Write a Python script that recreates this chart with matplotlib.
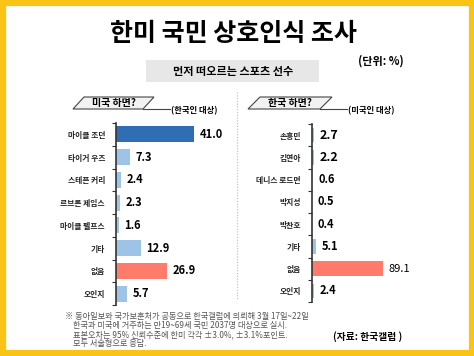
import matplotlib
matplotlib.use("Agg")
import matplotlib.pyplot as plt
from matplotlib.patches import Polygon, Rectangle
from matplotlib.lines import Line2D

plt.rcParams["font.family"] = ["Noto Sans CJK KR", "DejaVu Sans"]

# data
us_names = ["마이클 조던", "타이거 우즈", "스테픈 커리", "르브론 제임스",
            "마이클 펠프스", "기타", "없음", "오인지"]
us_values = [41.0, 7.3, 2.4, 2.3, 1.6, 12.9, 26.9, 5.7]
kr_names = ["손흥민", "김연아", "데니스 로드먼", "박지성", "박찬호",
            "기타", "없음", "오인지"]
kr_values = [2.7, 2.2, 0.6, 0.5, 0.4, 5.1, 89.1, 2.4]

DARK_BLUE = "#2F6EB5"
LIGHT_BLUE = "#9DC3E6"
SALMON = "#FF7B6B"
YELLOW = "#F9C416"

W, H = 474, 356
fig = plt.figure(figsize=(W / 100, H / 100), dpi=100)
fig.patch.set_facecolor("white")


def fx(x):
    return x / W


def fy(y):
    return 1 - y / H


def bar_colors(names, first_dark):
    cols = []
    for i, n in enumerate(names):
        if n == "없음":
            cols.append(SALMON)
        elif i == 0 and first_dark:
            cols.append(DARK_BLUE)
        else:
            cols.append(LIGHT_BLUE)
    return cols


def draw_panel(rect, names, values, xmax, bar_h, first_dark, big_first=False):
    ax = fig.add_axes(rect)
    ypos = list(range(len(names)))
    ax.barh(ypos, values, height=bar_h, color=bar_colors(names, first_dark))
    ax.set_xlim(0, xmax)
    ax.set_ylim(len(names) - 0.5, -0.5)
    for s in ["top", "right", "bottom"]:
        ax.spines[s].set_visible(False)
    ax.spines["left"].set_color("#333333")
    ax.spines["left"].set_linewidth(1.2)
    ax.set_xticks([])
    ax.set_yticks(ypos)
    ax.set_yticklabels(names, fontsize=5.6, fontweight="bold", color="#222222")
    ax.tick_params(axis="y", which="major", length=0, pad=8)
    ax.set_yticks([i - 0.5 for i in range(len(names) + 1)], minor=True)
    ax.tick_params(axis="y", which="minor", length=3, width=0.8, color="#333333")
    ax.patch.set_alpha(0)
    for i, v in enumerate(values):
        fs = 9 if (big_first and i < 2) else 8
        wt = "normal" if v > 80 else "bold"
        ax.annotate(f"{v:.1f}", (v, i), xytext=(4, 0), textcoords="offset points",
                    va="center", ha="left", fontsize=fs, fontweight=wt, color="black")
    return ax


draw_panel([fx(116), fy(305), fx(114), 182 / H], us_names, us_values, 60, 0.7, True)
draw_panel([fx(312), fy(302), fx(88), 178 / H], kr_names, kr_values, 110, 0.65, False,
           big_first=True)

# frame
fig.add_artist(Rectangle((fx(2.5), fy(353)), fx(469), 350.5 / H, transform=fig.transFigure,
                         fill=False, edgecolor=YELLOW, linewidth=4.5))

# title and headers
fig.text(fx(233), fy(34), "한미 국민 상호인식 조사", ha="center", va="center",
         fontsize=18, fontweight="bold")
fig.add_artist(Rectangle((fx(146), fy(82)), fx(173), 22 / H, transform=fig.transFigure,
                         facecolor="#E7E7E7", edgecolor="none"))
fig.text(fx(233), fy(71), "먼저 떠오르는 스포츠 선수", ha="center", va="center",
         fontsize=8, fontweight="bold")
fig.text(fx(381), fy(61), "(단위: %)", ha="center", va="center",
         fontsize=8, fontweight="bold")


def tag(x0, x1, slant, label, line_end, note):
    pts = [(fx(x0), fy(109)), (fx(x0 + slant), fy(97)),
           (fx(x1 + slant), fy(97)), (fx(x1), fy(109))]
    fig.add_artist(Polygon(pts, closed=True, transform=fig.transFigure,
                           facecolor="#F2F2F2", edgecolor="#444444", linewidth=0.8))
    fig.add_artist(Line2D([fx(x1), fx(line_end)], [fy(109), fy(109)],
                          transform=fig.transFigure, color="#444444", linewidth=0.8))
    fig.text(fx((x0 + x1 + slant) / 2), fy(103), label, ha="center", va="center",
             fontsize=7.2, fontweight="bold")
    fig.text(fx(line_end + 1), fy(111), note, ha="left", va="center",
             fontsize=6, fontweight="bold")


tag(73, 143, 11, "미국 하면?", 170, "(한국인 대상)")
tag(248, 320, 12, "한국 하면?", 347, "(미국인 대상)")

# separator
fig.add_artist(Line2D([fx(237), fx(237)], [fy(92), fy(300)], transform=fig.transFigure,
                      color="#BBBBBB", linewidth=0.8, linestyle=(0, (1, 1.5))))

# footnote
notes = ["※ 동아일보와 국가보훈처가 공동으로 한국갤럽에 의뢰해 3월 17일~22일",
         "한국과 미국에 거주하는 만19~69세 국민 2037명 대상으로 실시.",
         "표본오차는 95% 신뢰수준에 한미 각각 ±3.0%, ±3.1%포인트.",
         "모두 서술형으로 응답."]
for i, line in enumerate(notes):
    x = 65 if i == 0 else 73
    fig.text(fx(x), fy(317 + i * 8.7), line, ha="left", va="center",
             fontsize=5.9, color="#555555")

fig.text(fx(368), fy(337), "(자료: 한국갤럽 )", ha="center", va="center",
         fontsize=7, fontweight="bold")

fig.savefig("out.png", dpi=100)
